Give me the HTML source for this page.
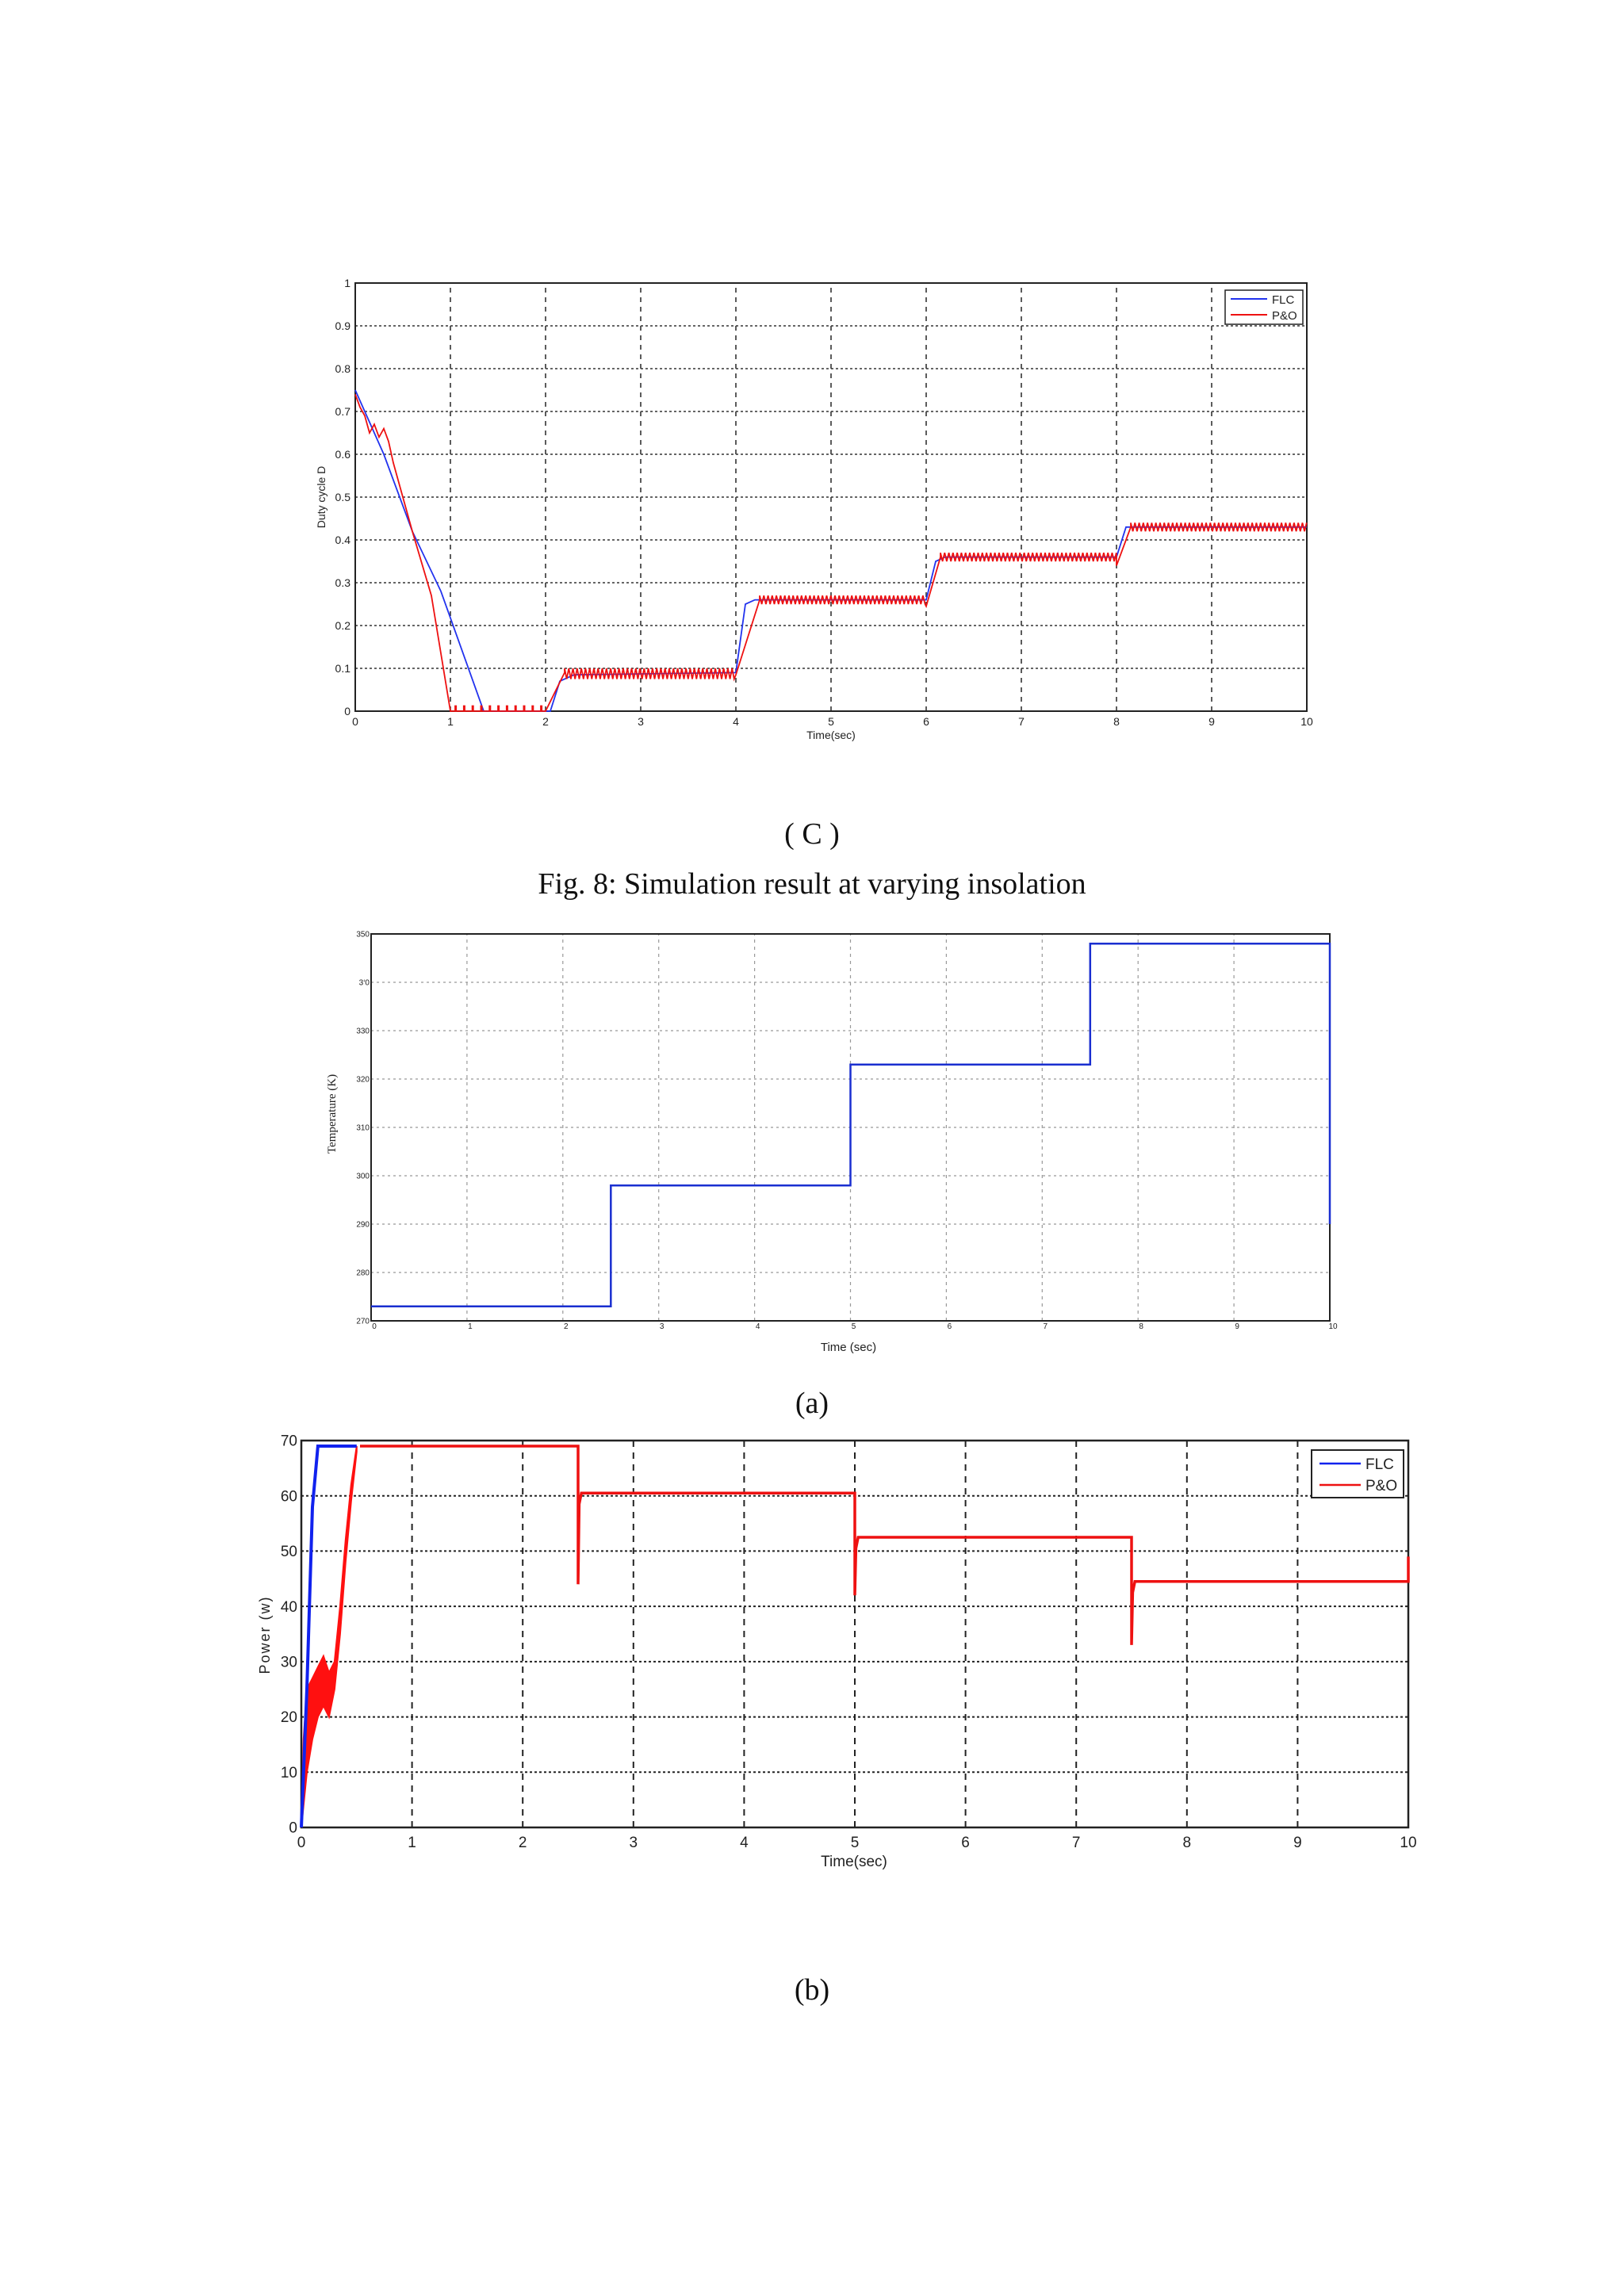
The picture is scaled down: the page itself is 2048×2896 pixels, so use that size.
<!DOCTYPE html>
<html><head><meta charset="utf-8"><style>
html,body{margin:0;padding:0;background:#fff;}
body{width:2048px;height:2896px;position:relative;overflow:hidden;font-family:"Liberation Sans",sans-serif;}
.cap{position:absolute;left:0;width:2048px;text-align:center;font-family:"Liberation Serif",serif;color:#111;}
svg{position:absolute;left:0;top:0;}
</style></head><body>
<div class="cap" style="top:1030px;font-size:38px;">( C )</div>
<div class="cap" style="top:1093px;font-size:38px;">Fig. 8: Simulation result at varying insolation</div>
<div class="cap" style="top:1748px;font-size:38px;">(a)</div>
<div class="cap" style="top:2488px;font-size:38px;">(b)</div>
<svg id="s" width="2048" height="2896" xmlns="http://www.w3.org/2000/svg"></svg>
<script>
// ---- Chart C: duty cycle ----
const cTicksX=[0,1,2,3,4,5,6,7,8,9,10];
const cTicksY=[0,0.1,0.2,0.3,0.4,0.5,0.6,0.7,0.8,0.9,1];
const cFlcT=[0,0.3,0.6,0.9,1.35,2.05,2.15,2.3,4.0,4.1,4.2,6.0,6.1,6.2,8.0,8.1,8.2,10];
const cFlcV=[0.75,0.6,0.42,0.28,0,0,0.07,0.085,0.09,0.25,0.26,0.26,0.35,0.36,0.36,0.43,0.43,0.43];
const cPoT=[0,0.05,0.1,0.15,0.2,0.25,0.3,0.35,0.4,0.6,0.8,1.0];
const cPoV=[0.74,0.71,0.69,0.65,0.67,0.64,0.66,0.63,0.58,0.42,0.27,0];
const cRiseT=[2.0,2.2];
const cRiseV=[0,0.09];
const cRipStart=[2.2,4.25,6.15,8.15];
const cRipEnd=[4.0,6.0,8.0,10];
const cRipLow=[0.075,0.25,0.35,0.42];
const cRipHigh=[0.10,0.27,0.37,0.44];
const cRampFrom=[0.085,0.245,0.34];
const cRampTo=[0.26,0.36,0.43];

// ---- Chart A: temperature ----
const aTicksX=[0,1,2,3,4,5,6,7,8,9,10];
const aTicksY=[270,280,290,300,310,320,330,340,350];
const aTickLbl=["270","280","290","300","310","320","330","3‘0","350"];
const aStepT=[0,2.5,5,7.5,10];
const aStepV=[273,298,323,348,348];

// ---- Chart B: power ----
const bTicksX=[0,1,2,3,4,5,6,7,8,9,10];
const bTicksY=[0,10,20,30,40,50,60,70];
const bFlcT=[0,0.05,0.1,0.15,0.5];
const bFlcV=[0,25,58,69,69];
const bBandT=[0,0.02,0.05,0.1,0.15,0.2,0.25,0.3,0.35,0.4,0.45,0.5];
const bBandHi=[0,16,25,27,29,31,28,30,40,52,62,69];
const bBandLo=[0,4,10,16,20,22,20,25,35,48,59,68];
const bLevT=[0.5,2.5,5,7.5];
const bLevEnd=[2.5,5,7.5,10];
const bLev=[69,60.5,52.5,44.5];
const bDip=[44,42,33];

const NS="http://www.w3.org/2000/svg";
const svg=document.getElementById('s');
function el(tag,attrs,parent){const e=document.createElementNS(NS,tag);for(const k in attrs)e.setAttribute(k,attrs[k]);(parent||svg).appendChild(e);return e;}
function scale(d0,d1,r0,r1){return v=>r0+(v-d0)/(d1-d0)*(r1-r0);}
function pts(xs,ys,X,Y){return xs.map((t,i)=>X(t).toFixed(1)+','+Y(ys[i]).toFixed(1)).join(' ');}

function axes(g,X,Y,tx,ty,lblY,opt){
  const [x0,x1]=[X(tx[0]),X(tx[tx.length-1])];const [y0,y1]=[Y(ty[0]),Y(ty[ty.length-1])];
  tx.forEach((t,i)=>{
    if(i>0&&i<tx.length-1){const l=el('line',{x1:X(t),x2:X(t),y1:y0,y2:y1,stroke:opt.grid,'stroke-width':opt.gw,'stroke-dasharray':opt.vdash},g);
    }
    const tl=el('text',{x:X(t)+(opt.xoff||0),y:y0+opt.xly,'font-size':opt.fs,'text-anchor':'middle',fill:'#222'},g);tl.textContent=t;
    
  });
  ty.forEach((v,i)=>{
    if(i>0&&i<ty.length-1){const l=el('line',{x1:x0,x2:x1,y1:Y(v),y2:Y(v),stroke:opt.grid,'stroke-width':opt.gw,'stroke-dasharray':opt.hdash},g);
    }
    const tl=el('text',{x:x0-opt.ylx,y:Y(v)+opt.fs*0.35,'font-size':opt.fs,'text-anchor':'end',fill:'#222'},g);tl.textContent=lblY?lblY[i]:v;
    
  });
  const r=el('rect',{x:x0,y:y1,width:x1-x0,height:y0-y1,fill:'none',stroke:'#222','stroke-width':opt.bw},g);
  
}

// Chart C
(function(){
  const g=el('g',{});
  const X=scale(0,10,448,1648),Y=scale(0,1,897,357);
  axes(g,X,Y,cTicksX,cTicksY,null,{grid:'#333',gw:1.6,vdash:'6,6',hdash:'3,3',fs:14,xly:18,ylx:6,bw:2});
  const f=el('polyline',{points:pts(cFlcT,cFlcV,X,Y),fill:'none',stroke:'#2233ee','stroke-width':1.8},g);
  
  let p=[];cPoT.forEach((t,i)=>p.push([t,cPoV[i]]));
  for(let t=1.05;t<1.98;t+=0.09){p.push([t,0]);p.push([t,0.012]);p.push([t+0.01,0.012]);p.push([t+0.01,0]);}
  cRiseT.forEach((t,i)=>p.push([t,cRiseV[i]]));
  cRipStart.forEach((s,k)=>{
    let up=true;for(let t=s;t<cRipEnd[k];t+=0.022){p.push([t,up?cRipHigh[k]:cRipLow[k]]);up=!up;}
    if(k<cRampFrom.length){p.push([cRipEnd[k],cRampFrom[k]]);p.push([cRipStart[k+1],cRampTo[k]]);}
  });
  const pl=el('polyline',{points:p.map(q=>X(q[0]).toFixed(1)+','+Y(q[1]).toFixed(1)).join(' '),fill:'none',stroke:'#ee1111','stroke-width':1.8},g);
  
  const yl=el('text',{x:410,y:627,'font-size':14,'text-anchor':'middle',fill:'#222',transform:'rotate(-90 410 627)'},g);yl.textContent='Duty cycle D';
  
  const xl=el('text',{x:1048,y:932,'font-size':14,'text-anchor':'middle',fill:'#222'},g);xl.textContent='Time(sec)';
  
  const lg=el('g',{},g);
  el('rect',{x:1545,y:366,width:98,height:43,fill:'#fff',stroke:'#222','stroke-width':1.5},lg);
  el('line',{x1:1552,x2:1598,y1:377,y2:377,stroke:'#2233ee','stroke-width':2},lg);
  el('line',{x1:1552,x2:1598,y1:397,y2:397,stroke:'#ee1111','stroke-width':2},lg);
  const t1=el('text',{x:1604,y:383,'font-size':15,fill:'#222'},lg);t1.textContent='FLC';
  
  const t2=el('text',{x:1604,y:403,'font-size':15,fill:'#222'},lg);t2.textContent='P&O';
  
})();

// Chart A
(function(){
  const g=el('g',{});
  const X=scale(0,10,468,1677),Y=scale(270,350,1666,1178);
  axes(g,X,Y,aTicksX,aTicksY,aTickLbl,{grid:'#999',gw:1.2,vdash:'4,5',hdash:'3,4',fs:10,xly:10,ylx:2,xoff:4,bw:2});
  let p=[];aStepT.forEach((t,i)=>{if(i>0)p.push([t,aStepV[i-1]]);p.push([t,aStepV[i]]);});
  p.push([10,290]);
  const pl=el('polyline',{points:p.map(q=>X(q[0]).toFixed(1)+','+Y(q[1]).toFixed(1)).join(' '),fill:'none',stroke:'#1a2fd0','stroke-width':2.5},g);
  
  const yl=el('text',{x:423,y:1405,'font-size':15,'text-anchor':'middle',fill:'#222','font-family':'Liberation Serif',transform:'rotate(-90 423 1405)'},g);yl.textContent='Temperature (K)';
  
  const xl=el('text',{x:1070,y:1704,'font-size':15,'text-anchor':'middle',fill:'#222'},g);xl.textContent='Time (sec)';
  
})();

// Chart B
(function(){
  const g=el('g',{});
  const X=scale(0,10,380,1776),Y=scale(0,70,2305,1817);
  axes(g,X,Y,bTicksX,bTicksY,null,{grid:'#222',gw:2,vdash:'8,7',hdash:'3,3',fs:19,xly:25,ylx:5,bw:2.5});
  const band=el('polygon',{points:pts(bBandT,bBandHi,X,Y)+' '+pts(bBandT.slice().reverse(),bBandLo.slice().reverse(),X,Y),fill:'#ff1010',stroke:'#ff1010','stroke-width':2},g);
  
  let p=[];
  bLevT.forEach((s,k)=>{
    if(k>0){p.push([s,bLev[k-1]]);p.push([s,bDip[k-1]]);p.push([s+0.01,bLev[k]-2]);}
    p.push([s+0.03,bLev[k]]);p.push([bLevEnd[k],bLev[k]]);
  });
  p.push([10,49]);
  const pl=el('polyline',{points:p.map(q=>X(q[0]).toFixed(1)+','+Y(q[1]).toFixed(1)).join(' '),fill:'none',stroke:'#ee1111','stroke-width':3.5},g);
  
  const f=el('polyline',{points:pts(bFlcT,bFlcV,X,Y),fill:'none',stroke:'#1122ee','stroke-width':4},g);
  
  const yl=el('text',{x:340,y:2062,'font-size':18,'text-anchor':'middle',fill:'#222','letter-spacing':'2',transform:'rotate(-90 340 2062)'},g);yl.textContent='Power (w)';
  
  const xl=el('text',{x:1077,y:2354,'font-size':19,'text-anchor':'middle',fill:'#222'},g);xl.textContent='Time(sec)';
  
  const lg=el('g',{},g);
  el('rect',{x:1654,y:1829,width:116,height:60,fill:'#fff',stroke:'#222','stroke-width':2},lg);
  el('line',{x1:1664,x2:1716,y1:1846,y2:1846,stroke:'#1122ee','stroke-width':2.5},lg);
  el('line',{x1:1664,x2:1716,y1:1873,y2:1873,stroke:'#ee1111','stroke-width':2.5},lg);
  const t1=el('text',{x:1722,y:1853,'font-size':19,fill:'#222'},lg);t1.textContent='FLC';
  
  const t2=el('text',{x:1722,y:1880,'font-size':19,fill:'#222'},lg);t2.textContent='P&O';
  
})();
</script>
</body></html>
